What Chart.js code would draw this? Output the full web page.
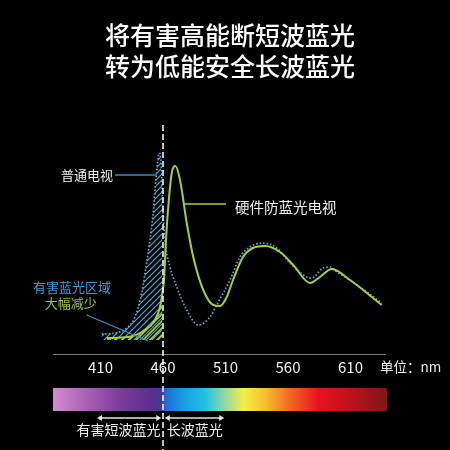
<!DOCTYPE html>
<html><head><meta charset="utf-8">
<script src="https://cdn.jsdelivr.net/npm/chart.js@4.4.0/dist/chart.umd.min.js"></script>
<style>html,body{margin:0;padding:0;background:#000;}#wrap{width:450px;height:450px;position:relative;}</style>
</head><body><div id="wrap"><canvas id="c"></canvas></div>
<script>
// ---- data ----
const titleLines = ['将有害高能断短波蓝光', '转为低能安全长波蓝光'];
const tickValues = [410, 460, 510, 560, 610];
const unitLabel = '单位：nm';
const splitNm = 460;
const normalLabel = '普通电视';
const hardwareLabel = '硬件防蓝光电视';
const regionLabel = '有害蓝光区域';
const reduceLabel = '大幅减少';
const shortLabel = '有害短波蓝光';
const longLabel = '长波蓝光';

const normalNm  = [410.9,421.6,431,437.6,443,445.6,449,452.2,454.4,457,458.4,459.6,461.6,465.6,471,479,488.2,497.6,503,513.6,521.6,529.6,540,551,561.6,575,579,588,593.6,599,609.6,635];
const normalVal = [20,21,26,37,61,81,109,142,176,201,192,154,114,87,67,44,29,37,49,74,97,107,111,106,91,77,76,86,87,82,74,51];

const hardNm  = [415,432,445.6,453.6,457.6,459.6,460.8,462.4,464.2,467,470,473.6,479,484.2,492.2,500.2,505.6,511,516,524,532,541.6,553.6,564.2,577.6,585.6,595,609.6,635];
const hardVal = [16,17,24,34,47,62,74,114,147,181,188,174,131,97,64,49,48,57,74,97,106,108,102,89,71,77,85,74,49];

// ---- helpers ----
const FONT = '"Noto Sans CJK SC", "Noto Sans", sans-serif';
const BLUE = '#5ab2da';
const GREEN = '#a6d03c';
function pts(xs, ys) { return xs.map((x, i) => ({ x: x, y: ys[i] })); }
function leftOf(xs, ys, lim) { return pts(xs, ys).filter(p => p.x <= lim); }
function makeHatch(color, size, lw) {
  const c = document.createElement('canvas'); c.width = size; c.height = size;
  const g = c.getContext('2d'); g.strokeStyle = color; g.lineWidth = lw;
  g.beginPath();
  g.moveTo(0, size); g.lineTo(size, 0);
  g.moveTo(-size / 2, size / 2); g.lineTo(size / 2, -size / 2);
  g.moveTo(size / 2, size * 1.5); g.lineTo(size * 1.5, size / 2);
  g.stroke();
  return g.createPattern(c, 'repeat');
}

const decor = {
  id: 'decor',
  afterDraw(chart) {
    const ctx = chart.ctx, xs = chart.scales.x, ys = chart.scales.y, a = chart.chartArea;
    const X = v => xs.getPixelForValue(v), Y = v => ys.getPixelForValue(v);
    ctx.save();
    // title
    ctx.font = '500 25px ' + FONT; ctx.fillStyle = '#ffffff'; ctx.textAlign = 'center'; ctx.textBaseline = 'middle';
    titleLines.forEach((t, i) => ctx.fillText(t, 230, 35 + i * 31));
    // colour bar
    const barTop = a.bottom + 34, barH = 23;
    const grd = ctx.createLinearGradient(a.left, 0, a.right, 0);
    const stops = [[0,'#d58ad2'],[0.1,'#a862b4'],[0.2,'#7c3d9c'],[0.3,'#5a2f8e'],[0.325,'#3c3a98'],[0.34,'#1a6fd2'],[0.4,'#17a2e2'],[0.46,'#24c2de'],[0.52,'#9ad89c'],[0.575,'#f6ee42'],[0.64,'#f8bd30'],[0.71,'#f26c22'],[0.8,'#e8121e'],[0.89,'#c0121e'],[1,'#7e1818']];
    stops.forEach(s => grd.addColorStop(s[0], s[1]));
    ctx.fillStyle = grd;
    ctx.fillRect(a.left, barTop, a.right - a.left + 2, barH);
    // arrows
    const ay = barTop + 30;
    function arrow(x1, x2) {
      ctx.strokeStyle = '#e6e6e6'; ctx.fillStyle = '#e6e6e6'; ctx.lineWidth = 1.3;
      ctx.beginPath(); ctx.moveTo(x1 + 3, ay); ctx.lineTo(x2 - 3, ay); ctx.stroke();
      ctx.beginPath(); ctx.moveTo(x1, ay); ctx.lineTo(x1 + 5, ay - 3); ctx.lineTo(x1 + 5, ay + 3); ctx.closePath(); ctx.fill();
      ctx.beginPath(); ctx.moveTo(x2, ay); ctx.lineTo(x2 - 5, ay - 3); ctx.lineTo(x2 - 5, ay + 3); ctx.closePath(); ctx.fill();
    }
    arrow(X(407.2), X(458.6));
    arrow(X(461.4), X(509));
    ctx.font = '14px ' + FONT; ctx.textBaseline = 'middle'; ctx.fillStyle = '#eeeeee';
    ctx.textAlign = 'right'; ctx.fillText(shortLabel, X(458), ay + 12);
    ctx.textAlign = 'left'; ctx.fillText(longLabel, X(463), ay + 12);
    // unit label
    ctx.font = '13.5px ' + FONT; ctx.fillStyle = '#eeeeee'; ctx.textAlign = 'left';
    ctx.fillText(unitLabel, a.right - 5, a.bottom + 13);
    // curve labels
    ctx.lineWidth = 1.6;
    ctx.font = '13px ' + FONT; ctx.fillStyle = '#f2f2f2'; ctx.textAlign = 'right';
    ctx.fillText(normalLabel, X(420), Y(179));
    ctx.strokeStyle = '#3a8fc4';
    ctx.beginPath(); ctx.moveTo(X(421.6), Y(179)); ctx.lineTo(X(455), Y(179)); ctx.stroke();
    ctx.font = '14.5px ' + FONT; ctx.textAlign = 'left'; ctx.fillStyle = '#f2f2f2';
    ctx.fillText(hardwareLabel, X(517.6), Y(147));
    ctx.strokeStyle = GREEN;
    ctx.beginPath(); ctx.moveTo(X(476), Y(150)); ctx.lineTo(X(510.4), Y(150)); ctx.stroke();
    ctx.font = '13px ' + FONT; ctx.textAlign = 'center';
    ctx.fillStyle = '#3d9ad8'; ctx.fillText(regionLabel, X(387.2), Y(67));
    ctx.fillStyle = '#9dc93a'; ctx.fillText(reduceLabel, X(386.2), Y(51));
    ctx.strokeStyle = '#3a8fc4'; ctx.lineWidth = 1.2;
    ctx.beginPath(); ctx.moveTo(X(399), Y(39)); ctx.lineTo(X(448), Y(13)); ctx.stroke();
    // dashed split line
    ctx.strokeStyle = '#ffffff'; ctx.lineWidth = 1.5; ctx.setLineDash([6, 3]);
    ctx.beginPath(); ctx.moveTo(X(splitNm), a.top - 9); ctx.lineTo(X(splitNm), chart.height); ctx.stroke();
    ctx.restore();
  }
};

const ctx = document.getElementById('c').getContext('2d');
new Chart(ctx, {
  type: 'line',
  data: {
    datasets: [
      { data: pts(hardNm, hardVal), borderColor: GREEN, borderWidth: 2, pointRadius: 0, fill: false, cubicInterpolationMode: 'monotone', order: 1 },
      { data: pts(normalNm, normalVal), borderColor: BLUE, borderWidth: 1.7, borderDash: [1.5, 2], pointRadius: 0, fill: false, cubicInterpolationMode: 'monotone', order: 2 },
      { data: leftOf(hardNm, hardVal, splitNm), borderWidth: 0, borderColor: 'rgba(0,0,0,0)', pointRadius: 0, fill: { value: 14 }, backgroundColor: makeHatch(GREEN, 7, 1.6), cubicInterpolationMode: 'monotone', order: 3 },
      { data: leftOf(normalNm, normalVal, splitNm), borderWidth: 0, borderColor: 'rgba(0,0,0,0)', pointRadius: 0, fill: { value: 14 }, backgroundColor: makeHatch('rgba(90,178,218,0.95)', 6, 1.2), cubicInterpolationMode: 'monotone', order: 4 }
    ]
  },
  options: {
    responsive: true, maintainAspectRatio: false, animation: false,
    layout: { padding: { left: 53, right: 65, top: 134, bottom: 70 } },
    plugins: {
      legend: { display: false }, tooltip: { enabled: false }, title: { display: false }
    },
    scales: {
      x: {
        type: 'linear', min: 372, max: 637.6,
        afterBuildTicks: s => { s.ticks = tickValues.map(v => ({ value: v })); },
        grid: { display: false, drawTicks: false },
        border: { display: true, color: '#7a7a7a', width: 1 },
        ticks: { color: '#eeeeee', padding: 4, font: { family: FONT, size: 15 }, maxRotation: 0, autoSkip: false }
      },
      y: { display: false, min: 0, max: 220 }
    }
  },
  plugins: [decor, { id: 'bg', beforeDraw(c) { c.ctx.save(); c.ctx.fillStyle = '#000'; c.ctx.fillRect(0, 0, c.width, c.height); c.ctx.restore(); } }]
});
</script></body></html>
